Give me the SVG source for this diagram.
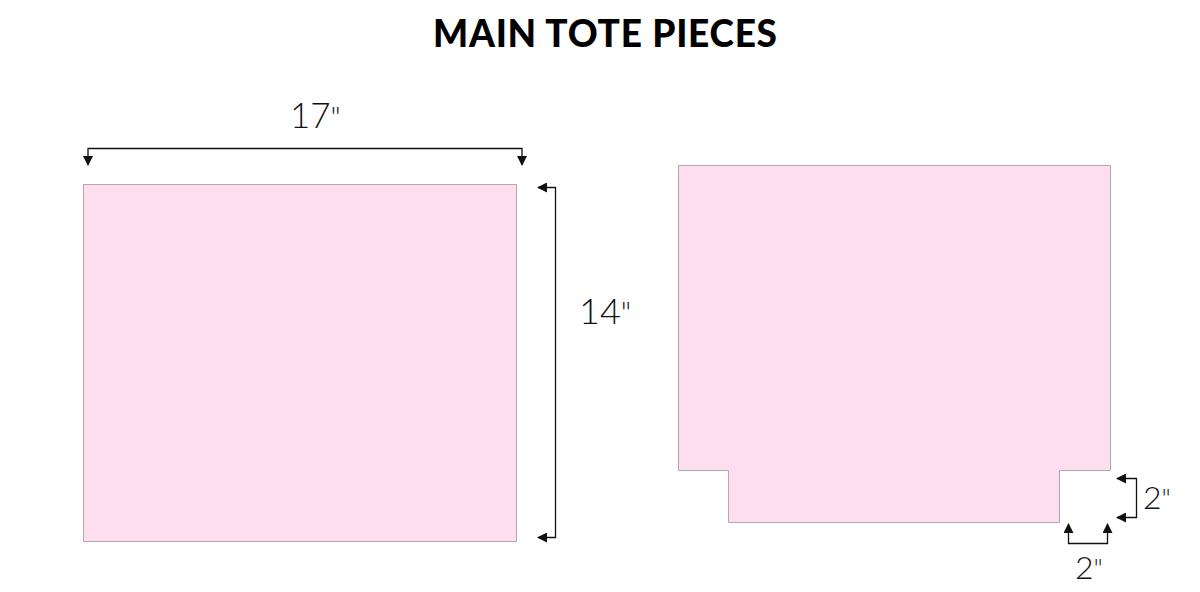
<svg xmlns="http://www.w3.org/2000/svg" width="1200" height="592" viewBox="0 0 1200 592">
<defs>
<marker id="ah" viewBox="0 0 10 10" refX="9" refY="5" markerWidth="10" markerHeight="10" markerUnits="userSpaceOnUse" orient="auto-start-reverse">
<path d="M0,0 L10,5 L0,10 Z" fill="#111"/>
</marker>
</defs>
<style>
.piece{fill:#fcdeee;stroke:#b9a3ae;stroke-width:1}
.dim{fill:none;stroke:#111;stroke-width:1.3}
.lbl{font-family:Lato,"Liberation Sans",sans-serif;font-weight:300;fill:#111}
.q{font-size:0.85em}
.title{font-family:Lato,"Liberation Sans",sans-serif;font-weight:900;font-size:37px;fill:#000}
</style>
<rect width="1200" height="592" fill="#fff"/>
<text class="title" x="605" y="47" text-anchor="middle" textLength="344">MAIN TOTE PIECES</text>
<g id="piece-left">
<rect class="piece" x="83.5" y="184.5" width="433" height="357"/>
</g>
<g id="piece-right">
<path class="piece" d="M678.5,165.5 H1110.5 V470.5 H1059.5 V522.5 H728.5 V470.5 H678.5 Z"/>
</g>
<g id="connectors">
<path class="dim" d="M88,165 V148.5 H522 V165" marker-start="url(#ah)" marker-end="url(#ah)"/>
<path class="dim" d="M538,187.5 H555.5 V537.5 H538" marker-start="url(#ah)" marker-end="url(#ah)"/>
<path class="dim" d="M1117,478.5 H1136.5 V517.5 H1117" marker-start="url(#ah)" marker-end="url(#ah)"/>
<path class="dim" d="M1068.5,524 V543.5 H1107.5 V524" marker-start="url(#ah)" marker-end="url(#ah)"/>
</g>
<g id="labels">
<text class="lbl" x="290" y="128" font-size="35">17<tspan class="q">"</tspan></text>
<text class="lbl" x="579" y="324" font-size="36">14<tspan class="q">"</tspan></text>
<text class="lbl" x="1143" y="509" font-size="32">2<tspan class="q">"</tspan></text>
<text class="lbl" x="1075" y="579" font-size="32">2<tspan class="q">"</tspan></text>
</g>
</svg>
